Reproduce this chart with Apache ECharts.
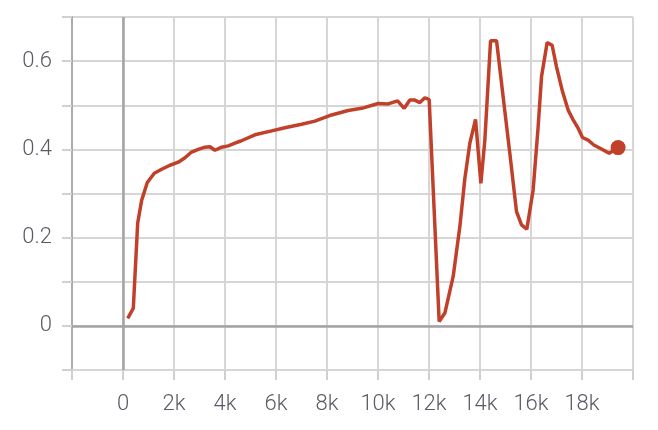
<!DOCTYPE html>
<html>
<head>
<meta charset="utf-8">
<script src="https://cdn.jsdelivr.net/npm/echarts@6/dist/echarts.min.js"></script>
<style>html,body{margin:0;padding:0;background:#fff}#c{width:658px;height:430px}</style>
</head>
<body>
<div id="c"></div>
<script>
const steps = [184,404,576,733,953,1227,1517,1842,2168,2430,2666,2952,3214,3410,3606,3869,4128,4390,4620,5174,5829,6350,7005,7526,8181,8832,9357,10008,10400,10768,11027,11250,11420,11642,11838,12007,12399,12622,12948,13210,13406,13602,13825,14034,14190,14414,14649,14908,15170,15432,15628,15836,16084,16280,16413,16633,16829,17001,17236,17456,17652,17848,18020,18240,18463,18765,19063,19416];
const values = [0.017,0.040,0.233,0.285,0.325,0.346,0.355,0.364,0.371,0.381,0.393,0.400,0.405,0.406,0.398,0.405,0.408,0.414,0.419,0.433,0.442,0.449,0.457,0.464,0.478,0.488,0.493,0.504,0.503,0.510,0.493,0.512,0.512,0.506,0.517,0.513,0.010,0.029,0.112,0.225,0.334,0.414,0.468,0.323,0.421,0.646,0.646,0.519,0.391,0.259,0.229,0.219,0.308,0.451,0.565,0.642,0.636,0.587,0.531,0.489,0.467,0.448,0.427,0.421,0.410,0.401,0.391,0.404];
const xTickLabels = {0:'0',2000:'2k',4000:'4k',6000:'6k',8000:'8k',10000:'10k',12000:'12k',14000:'14k',16000:'16k',18000:'18k'};
const yTickLabels = {'0.0':'0','0.2':'0.2','0.4':'0.4','0.6':'0.6'};

const lineData = steps.map((s,i)=>[s,values[i]]);
const last = lineData[lineData.length-1];
const LINE = '#c0402a';
const font = {fontFamily:'Roboto', fontWeight:300, fontSize:22, color:'#585a64'};

const chart = echarts.init(document.getElementById('c'), null, {renderer:'canvas'});
chart.setOption({
  animation:false,
  grid:{left:72,right:25,top:17,bottom:60,containLabel:false},
  xAxis:{
    type:'value',min:-2000,max:20000,interval:2000,
    axisLine:{show:true,onZero:false,lineStyle:{color:'#d6d6d6',width:2}},
    axisTick:{show:true,length:10,lineStyle:{color:'#d0d0d0',width:2}},
    splitLine:{show:true,lineStyle:{color:'#d6d6d6',width:2}},
    axisLabel:Object.assign({margin:23,formatter:v=>xTickLabels[v]!==undefined?xTickLabels[v]:''},font)
  },
  yAxis:{
    type:'value',min:-0.1,max:0.7,interval:0.1,
    axisLine:{show:true,onZero:false,lineStyle:{color:'#ababab',width:2}},
    axisTick:{show:true,length:10,lineStyle:{color:'#d0d0d0',width:2}},
    splitLine:{show:true,lineStyle:{color:'#d6d6d6',width:2}},
    axisLabel:Object.assign({margin:20,formatter:v=>{const k=Number(v).toFixed(1);return yTickLabels[k]!==undefined?yTickLabels[k]:'';}},font)
  },
  series:[
    {
      type:'line',data:lineData,showSymbol:false,smooth:false,
      lineStyle:{color:LINE,width:3.5},
      itemStyle:{color:LINE},
      z:3,
      markLine:{
        silent:true,symbol:'none',label:{show:false},
        lineStyle:{color:'#a3a3a3',width:2.5,type:'solid'},
        data:[{xAxis:0},{yAxis:0}],
        z:1
      }
    },
    {
      type:'scatter',data:[last],symbol:'circle',symbolSize:15,
      itemStyle:{color:LINE,opacity:1},z:4
    }
  ]
});
</script>
</body>
</html>
